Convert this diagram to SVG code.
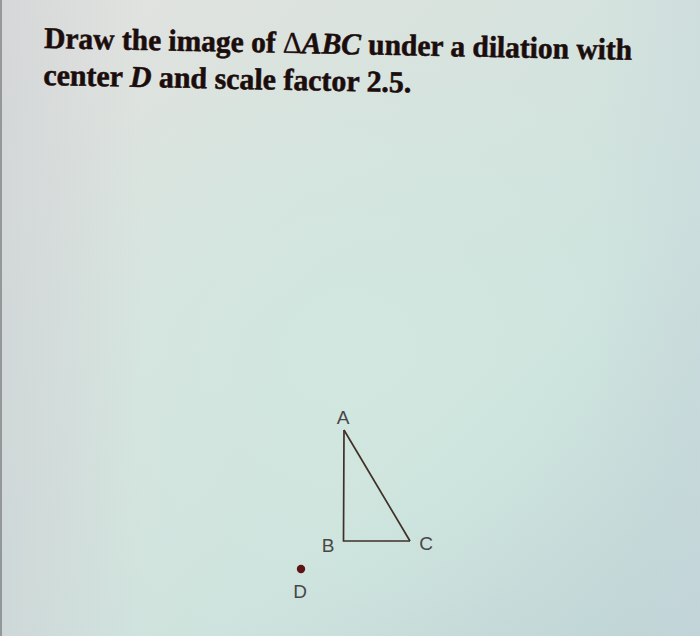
<svg xmlns="http://www.w3.org/2000/svg" width="700" height="636" viewBox="0 0 700 636">
<defs>
<linearGradient id="bg" x1="0" y1="0" x2="1" y2="1">
<stop offset="0" stop-color="#e3e2df"/>
<stop offset="0.35" stop-color="#d8e3de"/>
<stop offset="0.65" stop-color="#cee3dd"/>
<stop offset="1" stop-color="#bed3d5"/>
</linearGradient>
<radialGradient id="glow" cx="0.5" cy="0.55" r="0.5">
<stop offset="0" stop-color="#d0e8e0" stop-opacity="0.8"/>
<stop offset="1" stop-color="#d0e8e0" stop-opacity="0"/>
</radialGradient>
<linearGradient id="side" x1="0" y1="0" x2="1" y2="0">
<stop offset="0" stop-color="#c8ccd2" stop-opacity="0.5"/>
<stop offset="0.2" stop-color="#c8ccd2" stop-opacity="0"/>
<stop offset="0.85" stop-color="#c8d6dc" stop-opacity="0"/>
<stop offset="1" stop-color="#c8d6dc" stop-opacity="0.4"/>
</linearGradient>
</defs>
<style>
.title{font-family:"Liberation Serif","Times New Roman",serif;font-weight:bold;font-size:27px;fill:#1c0d0d;stroke:#1c0d0d;stroke-width:0.5}
.it{font-style:italic}
.nb{font-weight:normal;stroke-width:0.3}
.lbl{font-family:"Liberation Sans",Arial,sans-serif;font-size:19px;fill:#484747}
.edge{fill:none;stroke:#3f3028;stroke-width:1.7;stroke-linejoin:miter}
</style>
<rect width="700" height="636" fill="url(#bg)"/>
<rect width="700" height="636" fill="url(#glow)"/>
<rect width="700" height="636" fill="url(#side)"/>
<rect x="0" y="0" width="2" height="636" fill="#6a6c70" opacity="0.6"/>
<g id="title" transform="rotate(1.15 45 48)">
<text class="title" x="44" y="48" textLength="588" lengthAdjust="spacingAndGlyphs" transform="translate(0 48) scale(1 1.12) translate(0 -48)">Draw the image of <tspan class="nb">Δ</tspan><tspan class="it">ABC</tspan> under a dilation with</text>
<text class="title" x="44" y="85" textLength="368" lengthAdjust="spacingAndGlyphs" transform="translate(0 85) scale(1 1.12) translate(0 -85)">center <tspan class="it">D</tspan> and scale factor 2.5.</text>
</g>
<g id="connectors">
<polyline class="edge" points="344,430 343.5,541 410,541"/>
<line class="edge" x1="344" y1="430" x2="410" y2="541"/>
</g>
<g id="node-A"><text class="lbl" x="343" y="424" text-anchor="middle">A</text></g>
<g id="node-B"><text class="lbl" x="328" y="552" text-anchor="middle">B</text></g>
<g id="node-C"><text class="lbl" x="426" y="550" text-anchor="middle">C</text></g>
<g id="node-D">
<circle cx="301" cy="569" r="4.2" fill="#5e1414"/>
<text class="lbl" x="300" y="598" text-anchor="middle">D</text>
</g>
</svg>
